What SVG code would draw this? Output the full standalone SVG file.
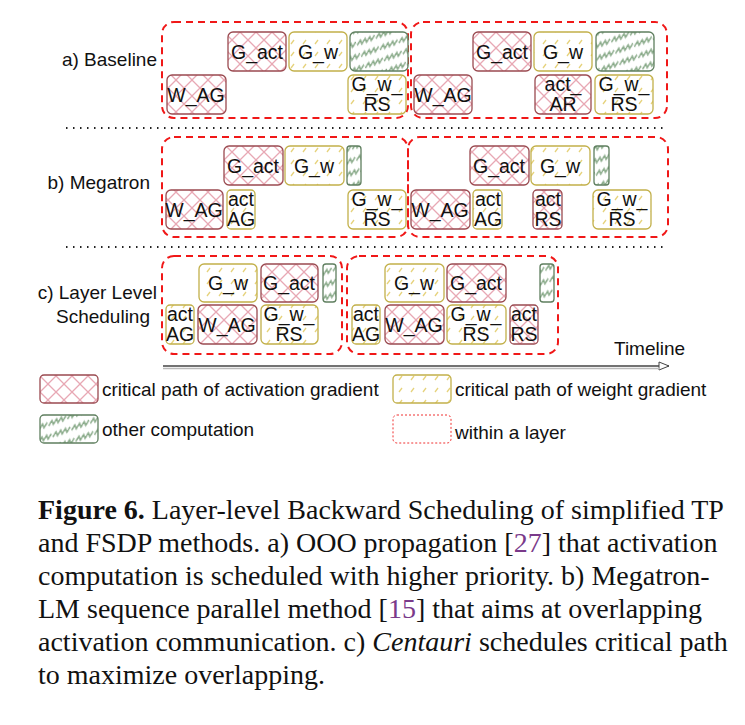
<svg xmlns="http://www.w3.org/2000/svg" width="745" height="725" viewBox="0 0 745 725">
<defs>
<pattern id="pr" width="16" height="16" patternUnits="userSpaceOnUse"><rect width="16" height="16" fill="#fff"/><path d="M0 0L16 16M16 0L0 16" stroke="#e8a8b4" stroke-width="1.3"/></pattern>
<pattern id="py" width="12" height="12" patternUnits="userSpaceOnUse"><rect width="12" height="12" fill="#fff"/><path d="M3 8L6 4" stroke="#e6d27a" stroke-width="1.3"/></pattern>
<pattern id="pg" width="20" height="12" patternUnits="userSpaceOnUse" patternTransform="rotate(-20)"><rect width="20" height="12" fill="#fff"/><path d="M0 9L5 5L5 9L10 5L10 9L15 5L15 9L20 5" stroke="#86a886" stroke-width="1.4" fill="none"/></pattern>
<marker id="ar" markerWidth="12" markerHeight="10" refX="11" refY="5" orient="auto" markerUnits="userSpaceOnUse"><path d="M1 1L11 5L1 9Z" fill="#fff" stroke="#444"/></marker>
</defs>
<style>
.r{fill:url(#pr);stroke:#9a4a50;stroke-width:1.3}
.y{fill:url(#py);stroke:#c2b04a;stroke-width:1.3}
.g{fill:url(#pg);stroke:#5f7f5f;stroke-width:1.3}
.L{fill:none;stroke:#f01818;stroke-width:2;stroke-dasharray:7 5}
.t{font-family:"Liberation Sans",Arial,sans-serif;font-size:19.5px;fill:#111;text-anchor:middle}
.s{font-family:"Liberation Sans",Arial,sans-serif;font-size:19px;fill:#111}
.c{font-family:"Liberation Serif","Times New Roman",serif;font-size:28px;fill:#111}
.dot{stroke:#222;stroke-width:2;stroke-dasharray:1.5 5.5}
</style>
<g id="labels" class="s" style="text-anchor:end">
<text x="157" y="66">a) Baseline</text>
<text x="150" y="189">b) Megatron</text>
<text x="157" y="299">c) Layer Level</text>
<text x="150" y="323">Scheduling</text>
</g>
<g id="separators">
<line class="dot" x1="66" y1="128" x2="666" y2="128"/>
<line class="dot" x1="66" y1="247" x2="666" y2="247"/>
</g>
<g id="layers">
<rect class="L" x="162" y="22" width="246" height="96" rx="12"/>
<rect class="L" x="411" y="22" width="256" height="96" rx="12"/>
<rect class="L" x="162" y="137" width="246" height="100" rx="12"/>
<rect class="L" x="408" y="137" width="260" height="100" rx="12"/>
<rect class="L" x="162" y="256" width="180" height="98" rx="12"/>
<rect class="L" x="347" y="256" width="211" height="98" rx="12"/>
</g>
<g id="row-a">
<rect class="r" x="228" y="32" width="58" height="39" rx="5"/><text class="t" x="257" y="59">G_act</text>
<rect class="y" x="289" y="32" width="58" height="39" rx="5"/><text class="t" x="318" y="59">G_w</text>
<rect class="g" x="350" y="32" width="58" height="39" rx="5"/>
<rect class="r" x="167" y="75" width="59" height="39" rx="5"/><text class="t" x="196" y="102">W_AG</text>
<rect class="y" x="348" y="75" width="58" height="39" rx="5"/><text class="t" x="377" y="91">G_w_</text><text class="t" x="377" y="111">RS</text>
<rect class="r" x="473" y="32" width="58" height="39" rx="5"/><text class="t" x="502" y="59">G_act</text>
<rect class="y" x="534" y="32" width="58" height="39" rx="5"/><text class="t" x="563" y="59">G_w</text>
<rect class="g" x="596" y="32" width="58" height="39" rx="5"/>
<rect class="r" x="414" y="75" width="58" height="39" rx="5"/><text class="t" x="443" y="102">W_AG</text>
<rect class="r" x="535" y="75" width="56" height="39" rx="5"/><text class="t" x="563" y="91">act_</text><text class="t" x="563" y="111">AR</text>
<rect class="y" x="595" y="75" width="58" height="39" rx="5"/><text class="t" x="624" y="91">G_w_</text><text class="t" x="624" y="111">RS</text>
</g>
<g id="row-b">
<rect class="r" x="224" y="146" width="59" height="39" rx="5"/><text class="t" x="253" y="173">G_act</text>
<rect class="y" x="285" y="146" width="59" height="39" rx="5"/><text class="t" x="314" y="173">G_w</text>
<rect class="g" x="347" y="146" width="14" height="39" rx="3"/>
<rect class="r" x="166" y="190" width="57" height="39" rx="5"/><text class="t" x="194" y="217">W_AG</text>
<rect class="y" x="227" y="190" width="28" height="39" rx="4"/><text class="t" x="241" y="206">act</text><text class="t" x="241" y="226">AG</text>
<rect class="y" x="348" y="190" width="58" height="39" rx="5"/><text class="t" x="377" y="206">G_w_</text><text class="t" x="377" y="226">RS</text>
<rect class="r" x="470" y="146" width="59" height="39" rx="5"/><text class="t" x="499" y="173">G_act</text>
<rect class="y" x="531" y="146" width="59" height="39" rx="5"/><text class="t" x="560" y="173">G_w</text>
<rect class="g" x="594" y="146" width="15" height="39" rx="3"/>
<rect class="r" x="411" y="190" width="59" height="39" rx="5"/><text class="t" x="440" y="217">W_AG</text>
<rect class="y" x="473" y="190" width="29" height="39" rx="4"/><text class="t" x="488" y="206">act</text><text class="t" x="488" y="226">AG</text>
<rect class="r" x="533" y="190" width="29" height="39" rx="4"/><text class="t" x="548" y="206">act</text><text class="t" x="548" y="226">RS</text>
<rect class="y" x="593" y="190" width="58" height="39" rx="5"/><text class="t" x="622" y="206">G_w_</text><text class="t" x="622" y="226">RS</text>
</g>
<g id="row-c">
<rect class="y" x="199" y="264" width="58" height="38" rx="5"/><text class="t" x="228" y="290">G_w</text>
<rect class="r" x="261" y="264" width="57" height="38" rx="5"/><text class="t" x="289" y="290">G_act</text>
<rect class="g" x="323" y="264" width="13" height="38" rx="3"/>
<rect class="y" x="166" y="305" width="28" height="39" rx="4"/><text class="t" x="180" y="321">act</text><text class="t" x="180" y="341">AG</text>
<rect class="r" x="198" y="305" width="59" height="39" rx="5"/><text class="t" x="227" y="332">W_AG</text>
<rect class="y" x="261" y="305" width="57" height="39" rx="5"/><text class="t" x="289" y="321">G_w_</text><text class="t" x="289" y="341">RS</text>
<rect class="y" x="385" y="264" width="59" height="38" rx="5"/><text class="t" x="414" y="290">G_w</text>
<rect class="r" x="447" y="264" width="59" height="38" rx="5"/><text class="t" x="476" y="290">G_act</text>
<rect class="g" x="540" y="264" width="14" height="38" rx="3"/>
<rect class="y" x="352" y="305" width="28" height="39" rx="4"/><text class="t" x="366" y="321">act</text><text class="t" x="366" y="341">AG</text>
<rect class="r" x="385" y="305" width="59" height="39" rx="5"/><text class="t" x="414" y="332">W_AG</text>
<rect class="y" x="447" y="305" width="59" height="39" rx="5"/><text class="t" x="476" y="321">G_w_</text><text class="t" x="476" y="341">RS</text>
<rect class="r" x="510" y="305" width="28" height="39" rx="4"/><text class="t" x="524" y="321">act</text><text class="t" x="524" y="341">RS</text>
</g>
<g id="connectors">
<line x1="163" y1="366" x2="669" y2="366" stroke="#444" stroke-width="1.5" marker-end="url(#ar)"/>
<line x1="163" y1="368.5" x2="660" y2="368.5" stroke="#bbb" stroke-width="1.5"/>
</g>
<text class="s" x="614" y="355">Timeline</text>
<g id="legend">
<rect class="r" x="40" y="375" width="58" height="28" rx="4"/><text class="s" x="102" y="396">critical path of activation gradient</text>
<rect class="y" x="393" y="375" width="58" height="28" rx="4"/><text class="s" x="455" y="396">critical path of weight gradient</text>
<rect class="g" x="40" y="415" width="58" height="28" rx="4"/><text class="s" x="102" y="436">other computation</text>
<rect x="393" y="415" width="58" height="28" rx="4" fill="none" stroke="#f03030" stroke-width="1" stroke-dasharray="2 2"/><text class="s" x="455" y="439">within a layer</text>
</g>
<g id="caption" class="c">
<text x="38" y="519"><tspan font-weight="bold">Figure 6.</tspan> Layer-level Backward Scheduling of simplified TP</text>
<text x="38" y="552">and FSDP methods. a) OOO propagation [<tspan fill="#7a3a8a">27</tspan>] that activation</text>
<text x="38" y="585">computation is scheduled with higher priority. b) Megatron-</text>
<text x="38" y="618">LM sequence parallel method [<tspan fill="#7a3a8a">15</tspan>] that aims at overlapping</text>
<text x="38" y="651">activation communication. c) <tspan font-style="italic">Centauri</tspan> schedules critical path</text>
<text x="38" y="684">to maximize overlapping.</text>
</g>
</svg>
